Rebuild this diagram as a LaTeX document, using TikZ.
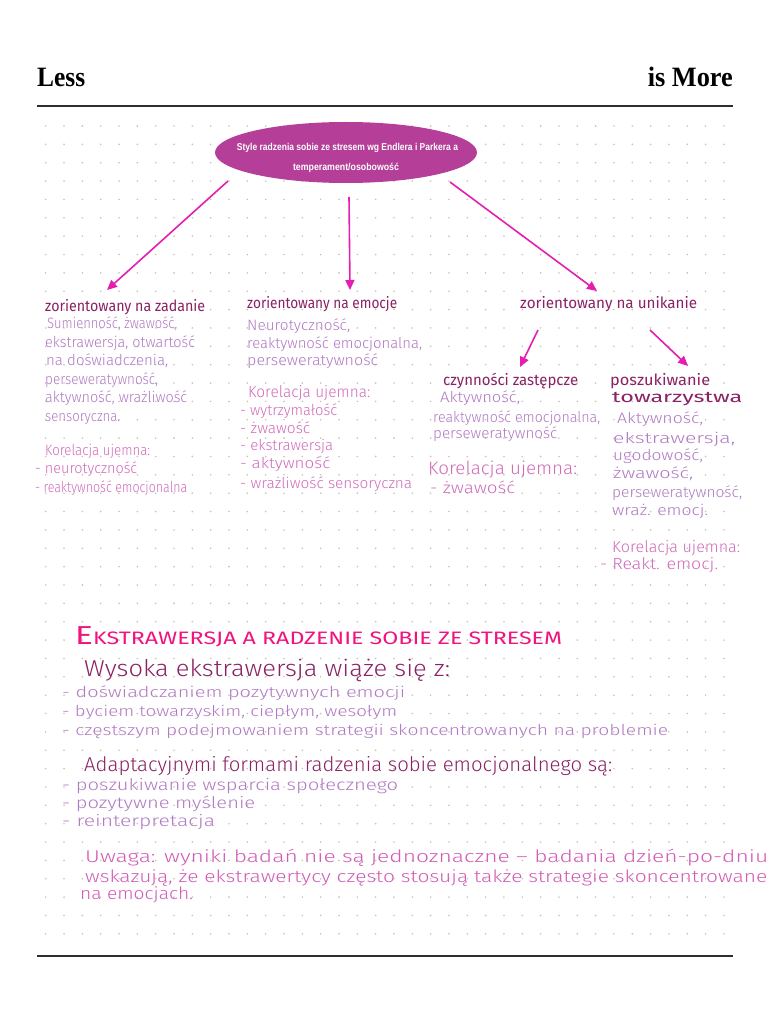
\documentclass[tikz,border=0pt]{standalone}
\usepackage{fontspec}
\usepackage{graphicx}
\usetikzlibrary{shapes.geometric,arrows.meta}
\setmainfont{Liberation Serif}
\newfontfamily\hand{Fira Sans Light}
\newfontfamily\handr{Fira Sans}
\newfontfamily\uisans{Liberation Sans}
\newcommand\fitto[2]{\resizebox{#1pt}{\height}{#2}}
\definecolor{darkm}{HTML}{8A2264}
\definecolor{lav}{HTML}{B07AC2}
\definecolor{kor}{HTML}{D06CB8}
\definecolor{arrowc}{HTML}{E61EB0}
\definecolor{ellc}{HTML}{B43E98}
\definecolor{titlec}{HTML}{F0147F}
\definecolor{uwagac}{HTML}{D25CB6}
\definecolor{dotc}{HTML}{C8C3B6}
\definecolor{rulec}{HTML}{2E2E2E}
\tikzset{
  hw/.style={inner sep=0pt, anchor=base west, font=\hand\fontsize{15}{15}\selectfont},
  head/.style={hw, text=darkm, font=\handr\fontsize{15.5}{15}\selectfont},
  body/.style={hw, text=lav},
  kore/.style={hw, text=kor},
  conn/.style={draw=arrowc, line width=1.6pt, -{Triangle[length=10pt,width=9pt]}},
}
\begin{document}
\begin{tikzpicture}[x=1pt,y=-1pt]
\useasboundingbox (0,0) rectangle (768,1024);
\fill[white] (0,0) rectangle (768,1024);
% dot grid
\foreach \i in {0,...,37}{
  \foreach \j in {0,...,44}{
    \fill[dotc] (45.7+18.33*\i,126+18.36*\j) circle (0.9pt);
  }
}
% header
\node[inner sep=0pt, anchor=base west, font=\bfseries\fontsize{28}{28}\selectfont] (less) at (37,87) {\fitto{48}{Less}};
\node[inner sep=0pt, anchor=base east, font=\bfseries\fontsize{28}{28}\selectfont] (more) at (733,87) {\fitto{85}{is More}};
\draw[rulec, line width=1.8pt] (37,106) -- (733,106);
\draw[rulec, line width=1.8pt] (37,956) -- (733,956);
% ellipse
\node[ellipse, fill=ellc, minimum width=262pt, minimum height=61pt, inner sep=0pt] (ell) at (346,152.5) {};
\node[inner sep=0pt, anchor=base, text=white, font=\uisans\bfseries\fontsize{10}{10}\selectfont] (ellt1) at (347.5,151) {\fitto{221}{Style radzenia sobie ze stresem wg Endlera i Parkera a}};
\node[inner sep=0pt, anchor=base, text=white, font=\uisans\bfseries\fontsize{10}{10}\selectfont] (ellt2) at (346,171) {\fitto{106}{temperament/osobowość}};
% left column
\node[head] (h1) at (45,311) {\fitto{160}{zorientowany na zadanie}};
\node[body] (l2) at (47,328) {\fitto{130}{Sumienność, żwawość,}};
\node[body] (l3) at (45,347) {\fitto{150}{ekstrawersja, otwartość}};
\node[body] (l4) at (46,365) {\fitto{122}{na doświadczenia,}};
\node[body] (l5) at (45,384) {\fitto{113}{perseweratywność,}};
\node[body] (l6) at (45,402) {\fitto{142}{aktywność, wrażliwość}};
\node[body] (l7) at (45,421) {\fitto{75}{sensoryczna.}};
\node[kore] (l8) at (45,455) {\fitto{105}{Korelacja ujemna:}};
\node[kore] (l9) at (35,473) {\fitto{102}{- neurotyczność}};
\node[kore] (l10) at (35,492) {\fitto{152}{- reaktywność emocjonalna}};
% middle column
\node[head] (h2) at (247,308) {\fitto{150}{zorientowany na emocje}};
\node[body] (m2) at (247,330) {\fitto{103}{Neurotyczność,}};
\node[body] (m3) at (247,348) {\fitto{175}{reaktywność emocjonalna,}};
\node[body] (m4) at (247,365) {\fitto{131}{perseweratywność}};
\node[kore, font=\hand\fontsize{16}{16}\selectfont] (m5) at (248,397) {\fitto{122}{Korelacja ujemna:}};
\node[kore] (m6) at (240,415) {\fitto{97}{- wytrzymałość}};
\node[kore] (m7) at (240,433) {\fitto{70}{- żwawość}};
\node[kore] (m8) at (240,450) {\fitto{93}{- ekstrawersja}};
\node[kore] (m9) at (240,468) {\fitto{90}{- aktywność}};
\node[kore] (m10) at (240,488) {\fitto{172}{- wrażliwość sensoryczna}};
% right
\node[head] (h3) at (520,308) {\fitto{177}{zorientowany na unikanie}};
\node[head] (s1) at (443,385) {\fitto{135}{czynności zastępcze}};
\node[body] (r2) at (440,402) {\fitto{80}{Aktywność,}};
\node[body] (r3) at (433,422) {\fitto{167}{reaktywność emocjonalna,}};
\node[body] (r4) at (433,438) {\fitto{124}{perseweratywność}};
\node[kore, font=\hand\fontsize{18}{18}\selectfont] (r5) at (428,474) {\fitto{149}{Korelacja ujemna:}};
\node[kore, font=\hand\fontsize{16}{16}\selectfont] (r6) at (430,493) {\fitto{85}{- żwawość}};
\node[head] (s2) at (610,385) {\fitto{100}{poszukiwanie}};
\node[head] (s2b) at (612,402) {\fitto{130}{towarzystwa}};
\node[body] (p2) at (617,423) {\fitto{86}{Aktywność,}};
\node[body] (p3) at (613,443) {\fitto{122}{ekstrawersja,}};
\node[body] (p4) at (613,460) {\fitto{90}{ugodowość,}};
\node[body] (p5) at (613,478) {\fitto{80}{żwawość,}};
\node[body] (p6) at (612,497) {\fitto{130}{perseweratywność,}};
\node[body] (p7) at (612,515) {\fitto{96}{wraż. emocj.}};
\node[kore, font=\hand\fontsize{16}{16}\selectfont] (p8) at (612,552) {\fitto{128}{Korelacja ujemna:}};
\node[kore, font=\hand\fontsize{16}{16}\selectfont] (p9) at (600,569) {\fitto{118}{- Reakt. emocj.}};
% arrows
\coordinate (a1s) at (228,181);
\coordinate (a1e) at (107,290);
\coordinate (a2s) at (349,197);
\coordinate (a2e) at (350,290);
\coordinate (a3s) at (450,182);
\coordinate (a3e) at (597,291);
\coordinate (a4s) at (538,330);
\coordinate (a4e) at (520,367);
\coordinate (a5s) at (650,330);
\coordinate (a5e) at (688,366);
\draw[conn] (a1s) -- (a1e);
\draw[conn] (a2s) -- (a2e);
\draw[conn] (a3s) -- (a3e);
\draw[conn] (a4s) -- (a4e);
\draw[conn] (a5s) -- (a5e);
% bottom section
\node[hw, text=titlec, font=\handr\fontsize{26}{26}\selectfont] (t1) at (75,644) {\fitto{487}{E\fontsize{18}{18}\selectfont KSTRAWERSJA A RADZENIE SOBIE ZE STRESEM}};
\node[hw, text=darkm, font=\hand\fontsize{23}{23}\selectfont] (b1) at (84,676) {\fitto{366}{Wysoka ekstrawersja wiąże się z:}};
\node[body] (b2) at (62,697) {\fitto{343}{- doświadczaniem pozytywnych emocji}};
\node[body] (b3) at (62,716) {\fitto{335}{- byciem towarzyskim, ciepłym, wesołym}};
\node[body] (b4) at (62,735) {\fitto{606}{- częstszym podejmowaniem strategii skoncentrowanych na problemie}};
\node[hw, text=darkm, font=\hand\fontsize{20}{20}\selectfont] (b5) at (84,771) {\fitto{528}{Adaptacyjnymi formami radzenia sobie emocjonalnego są:}};
\node[body, font=\hand\fontsize{16}{16}\selectfont] (b6) at (62,790) {\fitto{336}{- poszukiwanie wsparcia społecznego}};
\node[body, font=\hand\fontsize{16}{16}\selectfont] (b7) at (62,808) {\fitto{193}{- pozytywne myślenie}};
\node[body, font=\hand\fontsize{16}{16}\selectfont] (b8) at (62,826) {\fitto{153}{- reinterpretacja}};
\node[hw, text=uwagac, font=\hand\fontsize{17}{17}\selectfont] (u1) at (85,862) {\fitto{683}{Uwaga: wyniki badań nie są jednoznaczne – badania dzień-po-dniu}};
\node[hw, text=uwagac, font=\hand\fontsize{17}{17}\selectfont] (u2) at (85,882) {\fitto{682}{wskazują, że ekstrawertycy często stosują także strategie skoncentrowane}};
\node[hw, text=uwagac, font=\hand\fontsize{17}{17}\selectfont] (u3) at (80,899) {\fitto{113}{na emocjach.}};
\end{tikzpicture}
\end{document}
